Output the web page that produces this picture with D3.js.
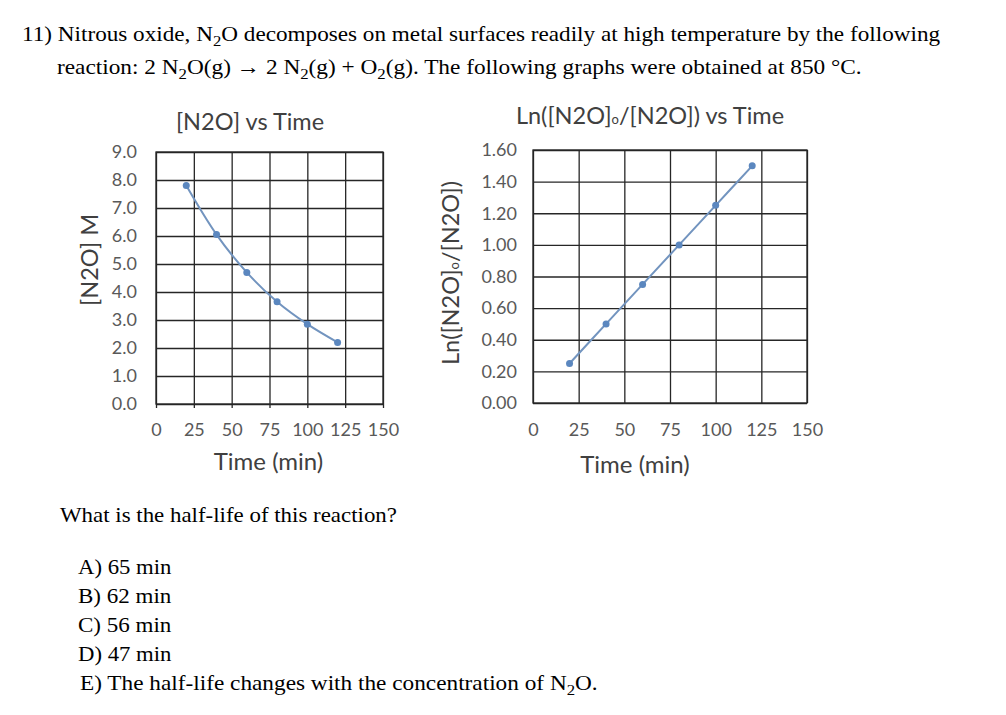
<!DOCTYPE html>
<html>
<head>
<meta charset="utf-8">
<script src="https://cdn.jsdelivr.net/npm/d3@7"></script>
<style>
  body { margin: 0; background: #fff; }
  svg text { font-kerning: normal; }
</style>
</head>
<body>
<div id="page"></div>
<script>
// data
const times = [20, 40, 60, 80, 100, 120];
const concN2O = [7.8, 6.05, 4.7, 3.65, 2.85, 2.2];
const lnRatio = [0.25, 0.50, 0.75, 1.00, 1.25, 1.50];
const xTicks = [0, 25, 50, 75, 100, 125, 150];
const concTicks = [0, 1, 2, 3, 4, 5, 6, 7, 8, 9];
const lnTicks = [0, 0.2, 0.4, 0.6, 0.8, 1.0, 1.2, 1.4, 1.6];
const answers = ["A) 65 min", "B) 62 min", "C) 56 min", "D) 47 min"];

const W = 1006, H = 715;
const serif = "'Liberation Serif', 'Times New Roman', serif";
const sans = "Lato, 'Open Sans', sans-serif";
const grey = "#595959";

const svg = d3.select("#page").append("svg")
  .attr("width", W)
  .attr("height", H);

// writes a line with N2 style subscripts, segments = [text, isSub]
function richLine(x, y, size, segs, width) {
  let t = svg.append("text")
    .attr("x", x).attr("y", y)
    .style("font-family", serif)
    .style("font-size", size + "px")
    .attr("fill", "#000");
  let shifted = false;
  segs.forEach(s => {
    let sp = t.append("tspan").text(s[0]);
    if (s[1] && !shifted) { sp.attr("dy", size * 0.22).style("font-size", (size * 0.72) + "px"); shifted = true; }
    else if (!s[1] && shifted) { sp.attr("dy", -size * 0.22); shifted = false; }
    else if (s[1]) sp.style("font-size", (size * 0.72) + "px");
  });
  // squeeze to the width of the scanned line
  if (width) {
    let w = t.node().getBBox().width;
    let k = width / w;
    t.attr("transform", "translate(" + x + ",0) scale(" + k + ",1) translate(" + (-x) + ",0)");
  }
  return t;
}

richLine(22, 41, 21, [["11) Nitrous oxide, N"], ["2", 1], ["O decomposes on metal surfaces readily at high temperature by the following"]], 919);
richLine(57, 74, 21, [["reaction: 2 N"], ["2", 1], ["O(g) \u2192  2 N"], ["2", 1], ["(g) + O"], ["2", 1], ["(g). The following graphs were obtained at 850 \u00B0C."]], 805);
richLine(60, 522, 21, [["What is the half-life of this reaction?"]], 337);
answers.forEach((a, i) => {
  richLine(78, 574 + i * 29, 21, [[a]], 94);
});
richLine(80, 690, 21, [["E) The half-life changes with the concentration of N"], ["2", 1], ["O."]], 518);

function drawChart(opt) {
  const x = d3.scaleLinear().domain([0, 150]).range([opt.left, opt.right]);
  const y = d3.scaleLinear().domain(opt.yDomain).range([opt.bottom, opt.top]);
  const g = svg.append("g");

  // grid
  g.append("g")
    .attr("transform", "translate(0," + opt.bottom + ")")
    .call(d3.axisBottom(x).tickValues(xTicks).tickSize(-(opt.bottom - opt.top)).tickFormat(""))
    .call(a => a.select(".domain").remove())
    .selectAll("line").attr("stroke", "#262626").attr("stroke-width", 1.3);
  g.append("g")
    .attr("transform", "translate(" + opt.left + ",0)")
    .call(d3.axisLeft(y).tickValues(opt.yTicks).tickSize(-(opt.right - opt.left)).tickFormat(""))
    .call(a => a.select(".domain").remove())
    .selectAll("line").attr("stroke", "#262626").attr("stroke-width", 1.3);
  g.append("rect")
    .attr("x", opt.left).attr("y", opt.top)
    .attr("width", opt.right - opt.left).attr("height", opt.bottom - opt.top)
    .attr("fill", "none").attr("stroke", "#262626").attr("stroke-width", 1.3);

  // tick labels
  let xa = g.append("g")
    .attr("transform", "translate(0," + opt.bottom + ")")
    .call(d3.axisBottom(x).tickValues(xTicks).tickSize(opt.xTickSize).tickPadding(opt.xPad));
  xa.select(".domain").remove();
  xa.selectAll("line").attr("stroke", "#262626").attr("stroke-width", 1.3);
  xa.selectAll("text").style("font-family", sans).style("font-size", "18px").attr("fill", grey);

  let ya = g.append("g")
    .attr("transform", "translate(" + opt.left + ",0)")
    .call(d3.axisLeft(y).tickValues(opt.yTicks).tickSize(0).tickPadding(opt.yPad).tickFormat(opt.yFormat));
  ya.select(".domain").remove();
  ya.selectAll("text").style("font-family", sans).style("font-size", "18px").attr("fill", grey);

  // series
  const pts = times.map((t, i) => [t, opt.values[i]]);
  const line = d3.line().x(d => x(d[0])).y(d => y(d[1])).curve(d3.curveCatmullRom.alpha(0.5));
  g.append("path").datum(pts)
    .attr("d", line)
    .attr("fill", "none")
    .attr("stroke", "#7294bf")
    .attr("stroke-width", 2);
  g.selectAll("circle.pt").data(pts).enter().append("circle")
    .attr("class", "pt")
    .attr("cx", d => x(d[0]))
    .attr("cy", d => y(d[1]))
    .attr("r", 3.5)
    .attr("fill", "#5b87bf");

  // titles
  let title = g.append("text")
    .attr("x", opt.titleX).attr("y", opt.titleY)
    .attr("text-anchor", "middle")
    .style("font-family", sans).style("font-size", "23.5px").attr("fill", "#404040");
  opt.title.forEach(s => {
    let sp = title.append("tspan").text(s[0]);
    if (s[1]) sp.style("font-size", "13px");
  });
  g.append("text")
    .attr("x", (opt.left + opt.right) / 2 + opt.xLabelDx).attr("y", opt.xLabelY)
    .attr("text-anchor", "middle")
    .style("font-family", sans).style("font-size", "24px").attr("fill", "#404040")
    .text("Time (min)");
  let yl = g.append("text")
    .attr("transform", "translate(" + opt.yLabelX + "," + opt.yLabelY + ") rotate(-90)")
    .attr("text-anchor", "middle")
    .style("font-family", sans).style("font-size", "23.5px").attr("fill", "#404040");
  opt.yLabel.forEach(s => {
    let sp = yl.append("tspan").text(s[0]);
    if (s[1]) sp.style("font-size", "13px");
  });
}

drawChart({
  left: 156, right: 383, top: 152, bottom: 404,
  yDomain: [0, 9], yTicks: concTicks, yFormat: d3.format(".1f"),
  values: concN2O,
  xTickSize: 4, xPad: 15.5, yPad: 19,
  title: [["[N2O] vs Time"]], titleX: 250, titleY: 130,
  xLabelDx: -1, xLabelY: 470,
  yLabel: [["[N2O] M"]], yLabelX: 98, yLabelY: 260
});

drawChart({
  left: 533, right: 807, top: 150, bottom: 403,
  yDomain: [0, 1.6], yTicks: lnTicks, yFormat: d3.format(".2f"),
  values: lnRatio,
  xTickSize: 0, xPad: 20.5, yPad: 16,
  title: [["Ln([N2O]"], ["o", 1], ["/[N2O]) vs Time"]], titleX: 650, titleY: 124,
  xLabelDx: -35, xLabelY: 473,
  yLabel: [["Ln([N2O]"], ["o", 1], ["/[N2O])"]], yLabelX: 459, yLabelY: 273
});
</script>
</body>
</html>
